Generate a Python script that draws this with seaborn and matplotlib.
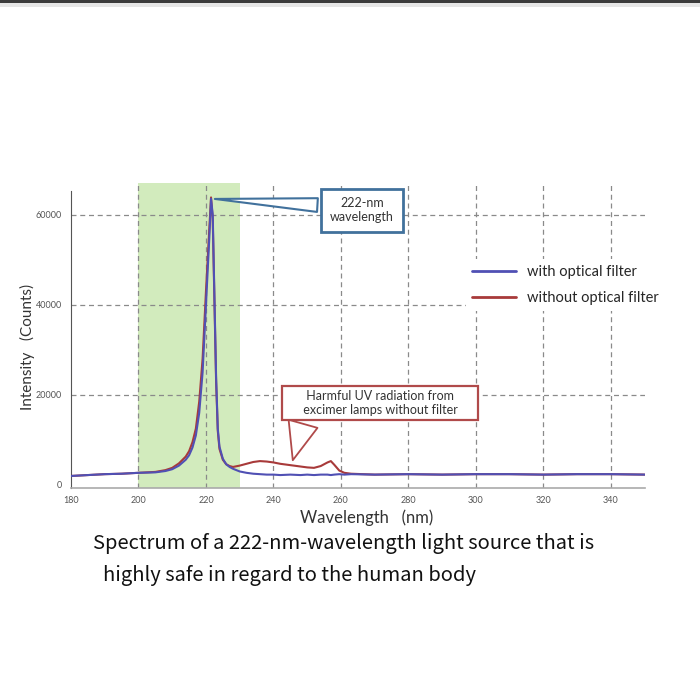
import pandas as pd
import seaborn as sns
import matplotlib.pyplot as plt
from matplotlib.patches import Rectangle

# ---------------------------------------------------------------- data
wavelength = [180, 185, 190, 195, 200, 205, 208, 210, 212, 214, 215, 216, 217, 218, 219, 220,
              221, 221.5, 222, 222.5, 223, 223.5, 224, 225, 226, 227, 228, 230, 232, 234, 236,
              238, 240, 242, 245, 248, 250, 252, 254, 256, 257, 258, 259.5, 261, 263, 270,
              280, 290, 300, 310, 320, 330, 340, 350]

with_filter = [2000, 2200, 2400, 2500, 2700, 2800, 3100, 3500, 4300, 5600, 6600, 8300, 11000,
               16000, 25000, 40000, 55000, 63500, 60000, 42000, 24000, 12500, 8500, 5800, 4600,
               4000, 3600, 3000, 2700, 2500, 2400, 2300, 2300, 2200, 2300, 2200, 2300, 2200,
               2300, 2300, 2200, 2300, 2400, 2300, 2400, 2300, 2400, 2300, 2400, 2400, 2300,
               2400, 2400, 2300]

without_filter = [2000, 2200, 2400, 2500, 2700, 2900, 3300, 3800, 4800, 6300, 7500, 9500, 12500,
                  18500, 28000, 43000, 57000, 63800, 59000, 41000, 23000, 12000, 8000, 5600, 4600,
                  4200, 4000, 4300, 4700, 5100, 5300, 5200, 5000, 4700, 4400, 4100, 3900, 3800,
                  4200, 5000, 5300, 4500, 3200, 2700, 2500, 2300, 2400, 2300, 2400, 2400, 2300,
                  2400, 2400, 2300]

series_names = ["with optical filter", "without optical filter"]
series_colors = ["#5050b4", "#a83a3a"]

x_ticks = [180, 200, 220, 240, 260, 280, 300, 320, 340]
y_ticks = [0, 20000, 40000, 60000]

df = pd.DataFrame({
    "Wavelength": wavelength * 2,
    "Intensity": with_filter + without_filter,
    "series": [series_names[0]] * len(wavelength) + [series_names[1]] * len(wavelength),
})

# ---------------------------------------------------------------- figure
sns.set_style("white")
plt.rcParams["font.family"] = ["Lato", "DejaVu Sans"]

fig = plt.figure(figsize=(7, 6.75), dpi=100)
ax = fig.add_axes([0.1014, 0.2775, 0.8196, 0.4514])

ax.axvspan(200, 230, color="#d2ebbd", zorder=1, lw=0)

sns.lineplot(data=df, x="Wavelength", y="Intensity", hue="series",
             hue_order=series_names[::-1], palette=dict(zip(series_names, series_colors)),
             linewidth=1.5, ax=ax, zorder=3)

ax.set_xlim(180, 350)
ax.set_ylim(-600, 67000)
ax.set_xticks(x_ticks)
ax.set_yticks(y_ticks)
ax.tick_params(axis="both", labelsize=6.5, labelcolor="#555555", color="#555555", length=3, width=0.8)
ax.tick_params(axis="x", length=0, pad=6)

# dashed grid
for xv in x_ticks[1:]:
    ax.axvline(xv, color="#8a8a8a", lw=0.9, ls=(0, (4, 3)), zorder=2)
for yv in y_ticks[1:]:
    ax.axhline(yv, color="#8a8a8a", lw=0.9, ls=(0, (4, 3)), zorder=2)

sns.despine(ax=ax)
ax.spines["left"].set_bounds(-600, 65300)
ax.spines["left"].set_color("#555555")
ax.spines["bottom"].set_color("#aaaaaa")
ax.spines["bottom"].set_linewidth(1.2)

ax.set_xlabel("Wavelength   (nm)", fontsize=12, color="#333333")
ax.set_ylabel("Intensity   (Counts)", fontsize=11, color="#333333")
ax.xaxis.set_label_coords(0.516, -0.07)
ax.yaxis.set_label_coords(-0.063, 0.462)

# legend
handles, labels = ax.get_legend_handles_labels()
order = [labels.index(n) for n in series_names]
leg = ax.legend([handles[i] for i in order], [labels[i] for i in order],
                loc="upper left", bbox_to_anchor=(0.676, 0.775), fontsize=10.5,
                handlelength=3.0, handletextpad=0.8, labelspacing=0.85,
                frameon=True, facecolor="white", edgecolor="none", framealpha=1)
for line in leg.get_lines():
    line.set_linewidth(2)

# callouts
ax.annotate("222-nm\nwavelength", xy=(221.8, 63500), xytext=(266.2, 60900),
            ha="center", va="center", fontsize=9, color="#333333", zorder=5,
            bbox=dict(boxstyle="square,pad=0.7", fc="white", ec="#41719c", lw=2),
            arrowprops=dict(arrowstyle="wedge,tail_width=1.1,shrink_factor=0.5",
                            fc="white", ec="#41719c", lw=1.5, relpos=(0, 0.68)))

ax.annotate("     Harmful UV radiation from     \n     excimer lamps without filter     ",
            xy=(245.5, 4900), xytext=(271.6, 18200), ha="center", va="center",
            fontsize=9, color="#333333", zorder=5,
            bbox=dict(boxstyle="square,pad=0.35", fc="white", ec="#b04a4a", lw=1.6),
            arrowprops=dict(arrowstyle="wedge,tail_width=2.4,shrink_factor=0.5",
                            fc="white", ec="#b04a4a", lw=1.3, relpos=(0.1, 0)))

# caption
cap_font = ["Noto Sans CJK JP", "DejaVu Sans"]
fig.text(93 / 700, 1 - 544 / 675, "Spectrum of a 222-nm-wavelength light source that is",
         fontsize=14.5, va="center", ha="left", family=cap_font, color="#111111")
fig.text(103 / 700, 1 - 576 / 675, "highly safe in regard to the human body",
         fontsize=14.5, va="center", ha="left", family=cap_font, color="#111111")

# screenshot bar at the top
fig.add_artist(Rectangle((0, 1 - 3 / 675), 1, 3 / 675, transform=fig.transFigure,
                         color="#3c3c3c", lw=0))
fig.add_artist(Rectangle((0, 1 - 7 / 675), 1, 4 / 675, transform=fig.transFigure,
                         color="#e6e6e6", lw=0))

fig.savefig("out.png", dpi=100)
